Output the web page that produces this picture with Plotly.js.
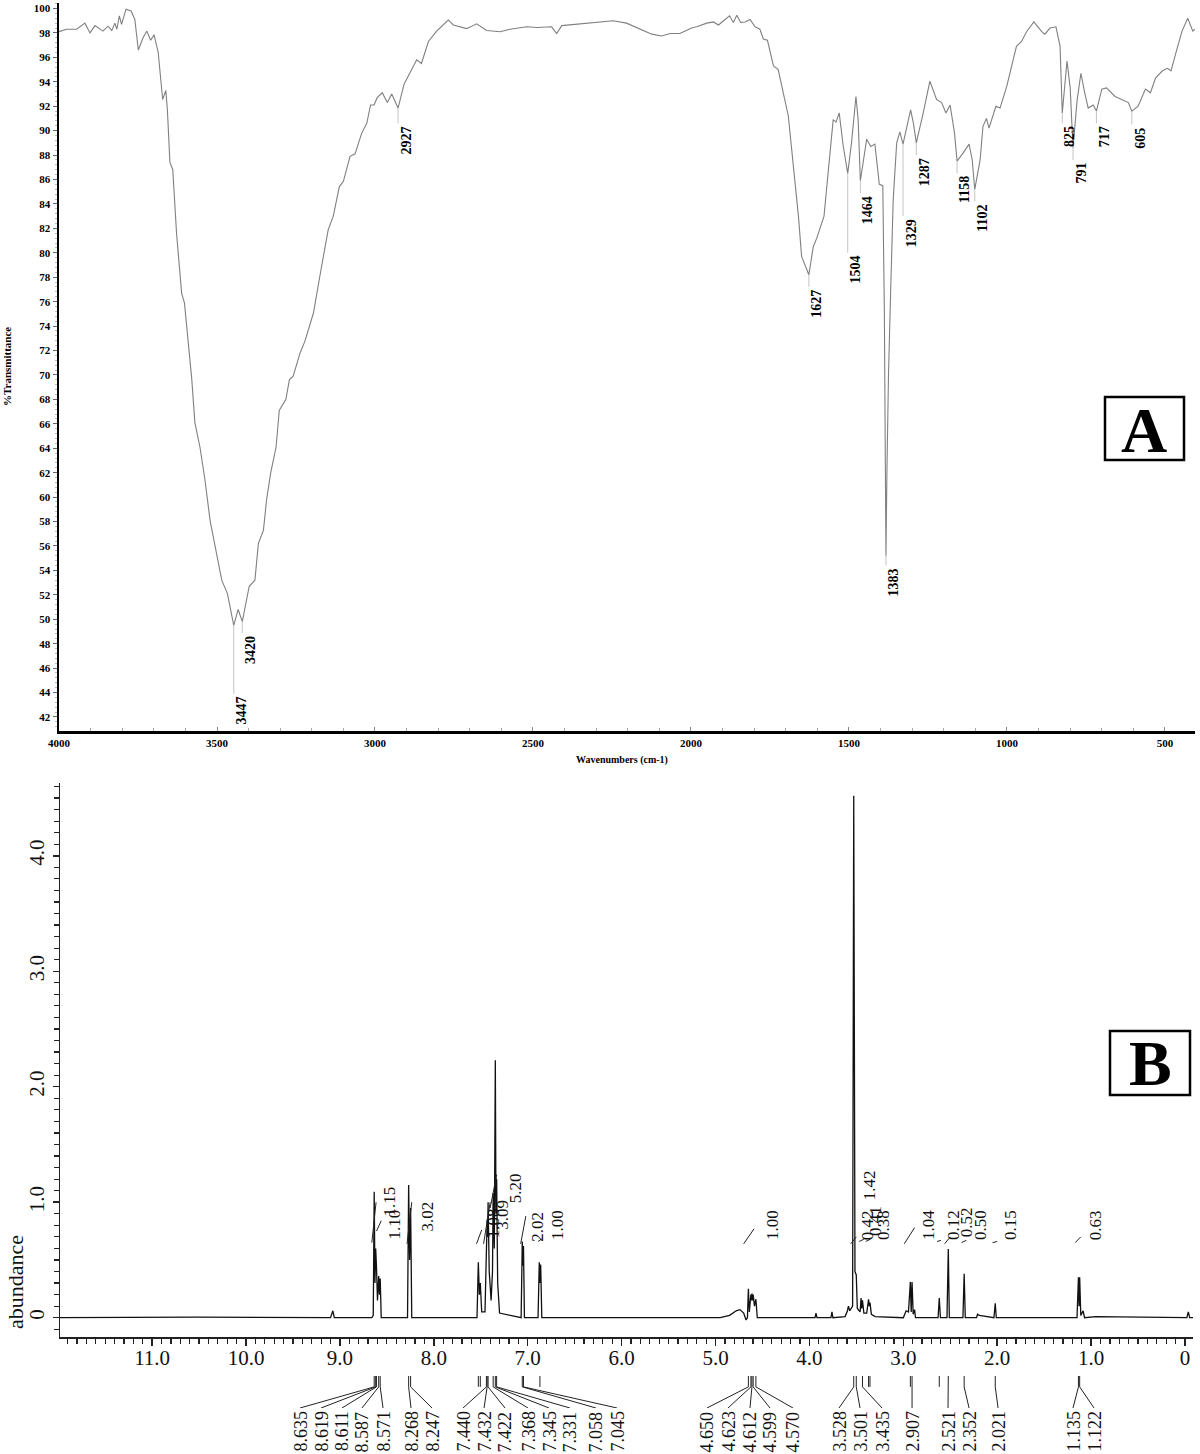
<!DOCTYPE html>
<html>
<head>
<meta charset="utf-8">
<script src="https://cdn.plot.ly/plotly-3.0.1.min.js"></script>
<style>
  html, body { margin: 0; padding: 0; background: #fff; }
  #chart { width: 1200px; height: 1454px; }
</style>
</head>
<body>
<div id="chart"></div>
<script>
// ---- Panel A: IR spectrum (wavenumber vs %T) ----
var irWn = [4000,3976,3944,3918,3902,3886,3861,3845,3833,3823,
  3817,3809,3802,3788,3772,3760,3749,3734,3722,3710,
  3699,3686,3672,3662,3657,3649,3640,3628,3612,3603,
  3580,3570,3554,3538,3522,3501,3485,3467,3447,3433,
  3420,3398,3380,3369,3353,3343,3330,3313,3303,3282,
  3271,3259,3237,3222,3195,3169,3148,3132,3113,3100,
  3079,3063,3042,3026,3014,3003,2993,2977,2961,2947,
  2927,2908,2879,2868,2853,2831,2805,2768,2752,2726,
  2710,2678,2647,2604,2573,2520,2488,2441,2425,2409,
  2330,2246,2204,2161,2124,2093,2066,2035,1998,1982,
  1950,1929,1913,1897,1878,1866,1855,1843,1829,1813,
  1797,1782,1771,1758,1739,1724,1710,1692,1676,1660,
  1650,1639,1627,1613,1602,1579,1565,1550,1541,1531,
  1518,1504,1492,1478,1471,1464,1444,1431,1418,1404,
  1393,1388,1385,1383,1380,1375,1368,1360,1349,1339,
  1329,1305,1296,1287,1265,1244,1223,1207,1193,1180,
  1166,1158,1138,1120,1110,1102,1085,1076,1065,1057,
  1035,1022,1001,970,954,938,915,890,880,864,
  845,832,825,810,800,791,778,766,754,743,
  727,717,700,685,658,637,616,605,585,562,
  546,530,508,492,481,465,446,428,412,405];
var irT = [98.1,98.3,98.3,98.8,98.0,98.6,98.15,98.55,98.2,98.8,
  98.3,99.4,98.7,99.95,99.8,99.1,96.6,97.6,98.15,97.4,
  97.85,96.4,92.55,93.3,91.7,87.4,86.8,81.6,76.7,75.9,
  69.7,66.1,64.1,61.4,58.1,55.4,53.2,52.1,49.5,50.8,
  49.8,52.7,53.2,56.2,57.3,59.8,62.0,64.1,67.1,68.0,
  69.6,69.9,71.8,72.75,75.05,78.9,81.9,83.0,85.4,85.85,
  87.9,88.1,89.8,90.6,92.1,92.1,92.7,93.1,92.3,93.0,
  91.85,93.8,95.3,95.8,95.5,97.3,98.15,99.06,98.65,98.5,
  98.35,98.75,98.2,98.1,98.3,98.5,98.45,98.5,97.95,98.6,
  98.8,99.0,98.8,98.3,97.9,97.75,97.95,97.95,98.4,98.5,
  98.8,98.9,98.65,99.0,99.4,98.86,99.45,98.86,98.9,99.1,
  98.5,98.3,97.5,97.4,95.3,95.0,93.3,91.2,87.1,83.0,
  79.7,78.9,78.2,80.5,81.2,83.0,87.1,90.9,90.7,91.45,
  88.7,86.5,89.0,92.8,90.9,85.9,89.3,88.7,88.9,85.6,
  85.5,75.0,63.0,55.2,62.0,70.0,77.0,84.4,89.0,89.9,
  88.9,91.7,90.6,89.0,91.45,94.05,92.55,92.3,91.45,92.1,
  89.8,87.5,88.2,88.9,87.6,85.2,87.6,90.35,91.0,90.2,
  92.0,91.85,93.6,96.9,97.3,98.1,98.9,98.1,97.9,98.4,
  98.5,96.9,91.45,95.7,93.5,88.6,92.5,94.7,93.1,91.85,
  92.1,91.6,93.4,93.5,92.8,92.55,92.3,91.6,92.0,93.4,
  93.1,94.3,94.9,95.1,94.9,96.4,98.15,99.2,98.15,98.3];

// picked IR peaks: position, minimum and where the marker line stops
var irPeakWn  = [3447, 3420, 2927, 1627, 1504, 1464, 1383, 1329, 1287, 1158, 1102, 825, 791, 717, 605];
var irPeakT   = [49.5, 49.8, 91.85, 78.2, 86.5, 85.9, 55.2, 88.9, 89.0, 87.5, 85.2, 91.45, 88.6, 91.6, 91.6];
var irPeakEnd = [43.9, 48.9, 90.6, 77.2, 80.0, 84.9, 54.4, 83.0, 88.0, 86.5, 84.2, 90.6, 87.6, 90.6, 90.5];

// ---- Panel B: 1H NMR spectrum ----
var nmrPpm = [12.00,10.50,9.10,9.075,9.06,8.66,8.645,8.635,8.627,8.619,8.611,8.60,8.587,8.579,8.571,8.56,
  8.28,8.268,8.258,8.247,8.235,
  7.54,7.526,7.515,7.505,7.49,7.455,7.44,7.436,7.432,7.427,7.422,7.41,7.39,7.375,7.368,7.356,7.345,7.338,7.331,7.32,7.30,
  7.07,7.058,7.052,7.045,7.035,6.89,6.877,6.870,6.862,6.85,
  4.95,4.85,4.78,4.74,4.70,4.675,4.66,4.65,4.64,4.623,4.618,4.612,4.605,4.599,4.585,4.570,4.555,
  3.94,3.93,3.92,3.77,3.76,3.75,3.62,3.595,3.585,3.57,3.54,3.528,3.515,3.501,3.49,3.46,3.45,3.443,3.435,3.42,
  3.39,3.37,3.363,3.355,3.34,3.30,
  3.00,2.97,2.945,2.925,2.916,2.907,2.895,2.88,2.87,2.63,2.617,2.605,2.535,2.521,2.51,2.365,2.352,2.34,
  2.22,2.21,2.19,2.035,2.021,2.01,1.15,1.135,1.128,1.122,1.11,1.085,1.07,0.95,-0.02,-0.035,-0.05,-0.085];
var nmrAbund = [0.0,0.005,0.0,0.06,0.0,0.0,0.02,1.09,0.3,0.6,0.45,0.15,0.36,0.2,0.34,0.0,
  0.0,1.15,0.5,0.95,0.0,
  0.0,0.48,0.2,0.30,0.05,0.05,0.6,0.5,0.85,0.7,1.0,0.4,0.15,0.4,1.08,0.6,2.23,0.9,1.2,0.3,0.04,
  0.0,0.66,0.45,0.62,0.0,0.0,0.48,0.3,0.46,0.0,
  0.0,0.02,0.06,0.07,0.04,-0.02,0.0,0.25,0.05,0.2,0.15,0.21,0.15,0.2,0.1,0.16,0.0,
  0.0,0.04,0.0,0.0,0.05,0.0,0.01,0.06,0.10,0.06,0.10,4.52,0.4,0.37,0.08,0.05,0.17,0.08,0.15,0.04,
  0.04,0.16,0.1,0.13,0.03,0.01,
  0.0,0.06,0.05,0.31,0.05,0.31,0.03,0.07,0.0,0.0,0.17,0.0,0.0,0.595,0.0,0.0,0.38,0.0,
  0.0,0.03,0.02,0.0,0.125,0.0,0.0,0.35,0.1,0.35,0.02,0.06,0.0,0.01,0.0,0.05,0.0,0.0];

// integral curves (ppm from -> to, height from -> to)
var intFrom = [8.66, 8.61, 8.285, 7.545, 7.47, 7.40, 7.075, 6.89, 4.70, 3.56, 3.47, 3.40, 2.99, 2.64, 2.56, 2.38, 2.05, 1.17];
var intTo   = [8.615, 8.56, 8.235, 7.49, 7.40, 7.33, 7.02, 6.855, 4.59, 3.50, 3.42, 3.35, 2.88, 2.60, 2.50, 2.33, 2.00, 1.11];
var intLow  = [0.65, 0.75, 0.64, 0.64, 0.64, 0.95, 0.64, 0.66, 0.64, 0.64, 0.66, 0.66, 0.64, 0.66, 0.64, 0.65, 0.65, 0.65];
var intHigh = [1.0, 0.84, 1.0, 0.76, 1.0, 1.24, 0.88, 0.68, 0.77, 0.70, 0.68, 0.68, 0.78, 0.67, 0.70, 0.67, 0.66, 0.70];

// integral values and where they are written
var intText = ['1.15','1.10','3.02','1.08','3.09','5.20','2.02','1.00','1.00','1.42','0.42','0.41','0.38','1.04','0.12','0.52','0.50','0.15','0.63'];
var intTextPpm = [8.477, 8.424, 8.072, 7.37, 7.263, 7.135, 6.89, 6.688, 4.398, 3.365, 3.386, 3.301, 3.216, 2.737, 2.471, 2.332, 2.183, 1.864, 0.958];
var intTextBase = [0.86, 0.66, 0.73, 0.67, 0.745, 0.975, 0.64, 0.655, 0.655, 1.0, 0.655, 0.69, 0.655, 0.655, 0.655, 0.68, 0.655, 0.655, 0.655];

// peak list under the axis
var peakPpm = [8.635,8.619,8.611,8.587,8.571,8.268,8.247,7.440,7.432,7.422,7.368,7.345,7.331,7.058,7.045,
  4.650,4.623,4.612,4.599,4.570,3.528,3.501,3.435,2.907,2.521,2.352,2.021,1.135,1.122];
var peakLabelPpm = [9.425,9.201,8.978,8.765,8.541,8.243,8.019,7.689,7.465,7.242,6.997,6.773,6.550,6.273,6.049,
  5.091,4.867,4.633,4.420,4.175,3.685,3.461,3.227,2.907,2.524,2.300,1.991,1.193,0.969];
var stubPpm = [7.526, 7.505, 6.870, 3.370, 3.355, 2.925, 2.617];

var W = 1200, H = 1454;
function px(x) { return x / W; }
function py(y) { return 1 - y / H; }

var serif = 'Liberation Serif, Times New Roman, serif';

// IR peak marker lines
var irMarkX = [], irMarkY = [];
irPeakWn.forEach(function (w, i) {
    irMarkX.push(w, w, null);
    irMarkY.push(irPeakT[i], irPeakEnd[i], null);
});

// NMR integral curves
var intX = [], intY = [];
intFrom.forEach(function (f, i) {
    intX.push(f, intTo[i], null);
    intY.push(intLow[i], intHigh[i], null);
});

// peak list connectors
var plX = [], plY = [];
peakPpm.forEach(function (p, i) {
    plX.push(p, p, peakLabelPpm[i], null);
    plY.push(1, 0.66, 0, null);
});
stubPpm.forEach(function (p) {
    plX.push(p, p, null);
    plY.push(1, 0.66, null);
});

var traces = [
    { x: irWn, y: irT, type: 'scatter', mode: 'lines', xaxis: 'x', yaxis: 'y',
      line: { color: '#808080', width: 1.1 } },
    { x: irMarkX, y: irMarkY, type: 'scatter', mode: 'lines', xaxis: 'x', yaxis: 'y',
      line: { color: '#c4c4c4', width: 1 } },
    { x: nmrPpm, y: nmrAbund, type: 'scatter', mode: 'lines', xaxis: 'x2', yaxis: 'y2',
      line: { color: '#111', width: 1.3 } },
    { x: intX, y: intY, type: 'scatter', mode: 'lines', xaxis: 'x2', yaxis: 'y2',
      line: { color: '#222', width: 1 } },
    { x: plX, y: plY, type: 'scatter', mode: 'lines', xaxis: 'x3', yaxis: 'y3',
      line: { color: '#222', width: 1 } }
];

var annotations = [];
irPeakWn.forEach(function (w, i) {
    annotations.push({
        x: w, y: irPeakEnd[i], xref: 'x', yref: 'y', text: '<b>' + w + '</b>',
        textangle: -90, xanchor: 'center', yanchor: 'top', xshift: 8, yshift: -1,
        showarrow: false, font: { family: serif, size: 14, color: '#000' }
    });
});
intText.forEach(function (t, i) {
    annotations.push({
        x: intTextPpm[i], y: intTextBase[i], xref: 'x2', yref: 'y2', text: t,
        textangle: -90, xanchor: 'center', yanchor: 'bottom',
        showarrow: false, font: { family: serif, size: 17, color: '#111' }
    });
});
peakPpm.forEach(function (p, i) {
    annotations.push({
        x: peakLabelPpm[i], y: 0, xref: 'x3', yref: 'y3', text: p.toFixed(3),
        textangle: -90, xanchor: 'center', yanchor: 'top', yshift: -1,
        showarrow: false, font: { family: serif, size: 18, color: '#111' }
    });
});
annotations.push(
    { x: px(7), y: py(367), xref: 'paper', yref: 'paper', xanchor: 'center', yanchor: 'middle',
      text: '<b>%Transmittance</b>', textangle: -90, showarrow: false,
      font: { family: serif, size: 11, color: '#000' } },
    { x: px(622), y: py(760), xref: 'paper', yref: 'paper', xanchor: 'center', yanchor: 'middle',
      text: '<b>Wavenumbers (cm-1)</b>', showarrow: false,
      font: { family: serif, size: 10, color: '#000' } },
    { x: px(15), y: py(1282), xref: 'paper', yref: 'paper', xanchor: 'center', yanchor: 'middle',
      text: 'abundance', textangle: -90, showarrow: false,
      font: { family: serif, size: 22, color: '#111' } },
    { x: px(1144), y: py(430), xref: 'paper', yref: 'paper', xanchor: 'center', yanchor: 'middle',
      text: '<b>A</b>', showarrow: false, font: { family: serif, size: 64, color: '#000' } },
    { x: px(1150), y: py(1063), xref: 'paper', yref: 'paper', xanchor: 'center', yanchor: 'middle',
      text: '<b>B</b>', showarrow: false, font: { family: serif, size: 64, color: '#000' } }
);

var shapes = [
    { type: 'rect', xref: 'paper', yref: 'paper', x0: px(1105), x1: px(1184), y0: py(460), y1: py(397),
      line: { color: '#000', width: 2.5 }, fillcolor: 'rgba(0,0,0,0)' },
    { type: 'rect', xref: 'paper', yref: 'paper', x0: px(1110), x1: px(1190), y0: py(1095), y1: py(1031),
      line: { color: '#000', width: 2.5 }, fillcolor: 'rgba(0,0,0,0)' }
];

var nmrRange = [11.981, -0.085];

var layout = {
    width: W, height: H,
    margin: { l: 0, r: 0, t: 0, b: 0 },
    paper_bgcolor: '#fff', plot_bgcolor: '#fff',
    showlegend: false, hovermode: false,
    xaxis: {
        domain: [px(59), px(1195)], range: [4000, 405], anchor: 'y',
        showline: true, linecolor: '#000', linewidth: 2.5, showgrid: false, zeroline: false,
        tickmode: 'array', tickvals: [4000, 3500, 3000, 2500, 2000, 1500, 1000, 500],
        ticks: 'inside', ticklen: 4, tickcolor: '#888',
        minor: { tickmode: 'linear', tick0: 0, dtick: 100, ticks: 'inside', ticklen: 3, tickcolor: '#aaa' },
        tickfont: { family: serif, size: 11, color: '#000', weight: 'bold' }
    },
    yaxis: {
        domain: [py(731), py(3)], range: [40.85, 100.45], anchor: 'x',
        showline: true, linecolor: '#000', linewidth: 2.5, showgrid: false, zeroline: false,
        tickmode: 'linear', tick0: 42, dtick: 2,
        ticks: 'outside', ticklen: 4, tickcolor: '#666',
        minor: { tickmode: 'linear', tick0: 42, dtick: 0.4, ticks: 'outside', ticklen: 2, tickcolor: '#bbb' },
        tickfont: { family: serif, size: 11, color: '#000', weight: 'bold' }
    },
    xaxis2: {
        domain: [px(60), px(1193)], range: nmrRange, anchor: 'y2',
        showline: true, linecolor: '#222', linewidth: 1.5, showgrid: false, zeroline: false,
        tickmode: 'array', tickvals: [0, 1, 2, 3, 4, 5, 6, 7, 8, 9, 10, 11],
        ticktext: ['0', '1.0', '2.0', '3.0', '4.0', '5.0', '6.0', '7.0', '8.0', '9.0', '10.0', '11.0'],
        ticks: 'outside', ticklen: 7, tickcolor: '#222', tickwidth: 1.5, ticklabelstandoff: -6,
        minor: { tickmode: 'linear', tick0: 0, dtick: 0.1, ticks: 'outside', ticklen: 5, tickcolor: '#222', tickwidth: 1.2 },
        tickfont: { family: serif, size: 21, color: '#111' }
    },
    yaxis2: {
        domain: [py(1337), py(783)], range: [-0.167, 4.63], anchor: 'x2',
        showline: true, linecolor: '#222', linewidth: 1.5, showgrid: false, zeroline: false,
        tickmode: 'array', tickvals: [0, 1, 2, 3, 4], ticktext: ['0', '1.0', '2.0', '3.0', '4.0'],
        tickangle: -90, ticks: 'outside', ticklen: 6, tickcolor: '#222', tickwidth: 1.5,
        minor: { tickmode: 'linear', tick0: 0, dtick: 0.1, ticks: 'outside', ticklen: 5, tickcolor: '#222', tickwidth: 1.2 },
        tickfont: { family: serif, size: 21, color: '#111' }
    },
    xaxis3: {
        domain: [px(60), px(1193)], range: nmrRange, anchor: 'y3', visible: false
    },
    yaxis3: {
        domain: [py(1408), py(1376)], range: [0, 1], anchor: 'x3', visible: false
    },
    annotations: annotations,
    shapes: shapes
};

Plotly.newPlot('chart', traces, layout, { staticPlot: true });
</script>
</body>
</html>
